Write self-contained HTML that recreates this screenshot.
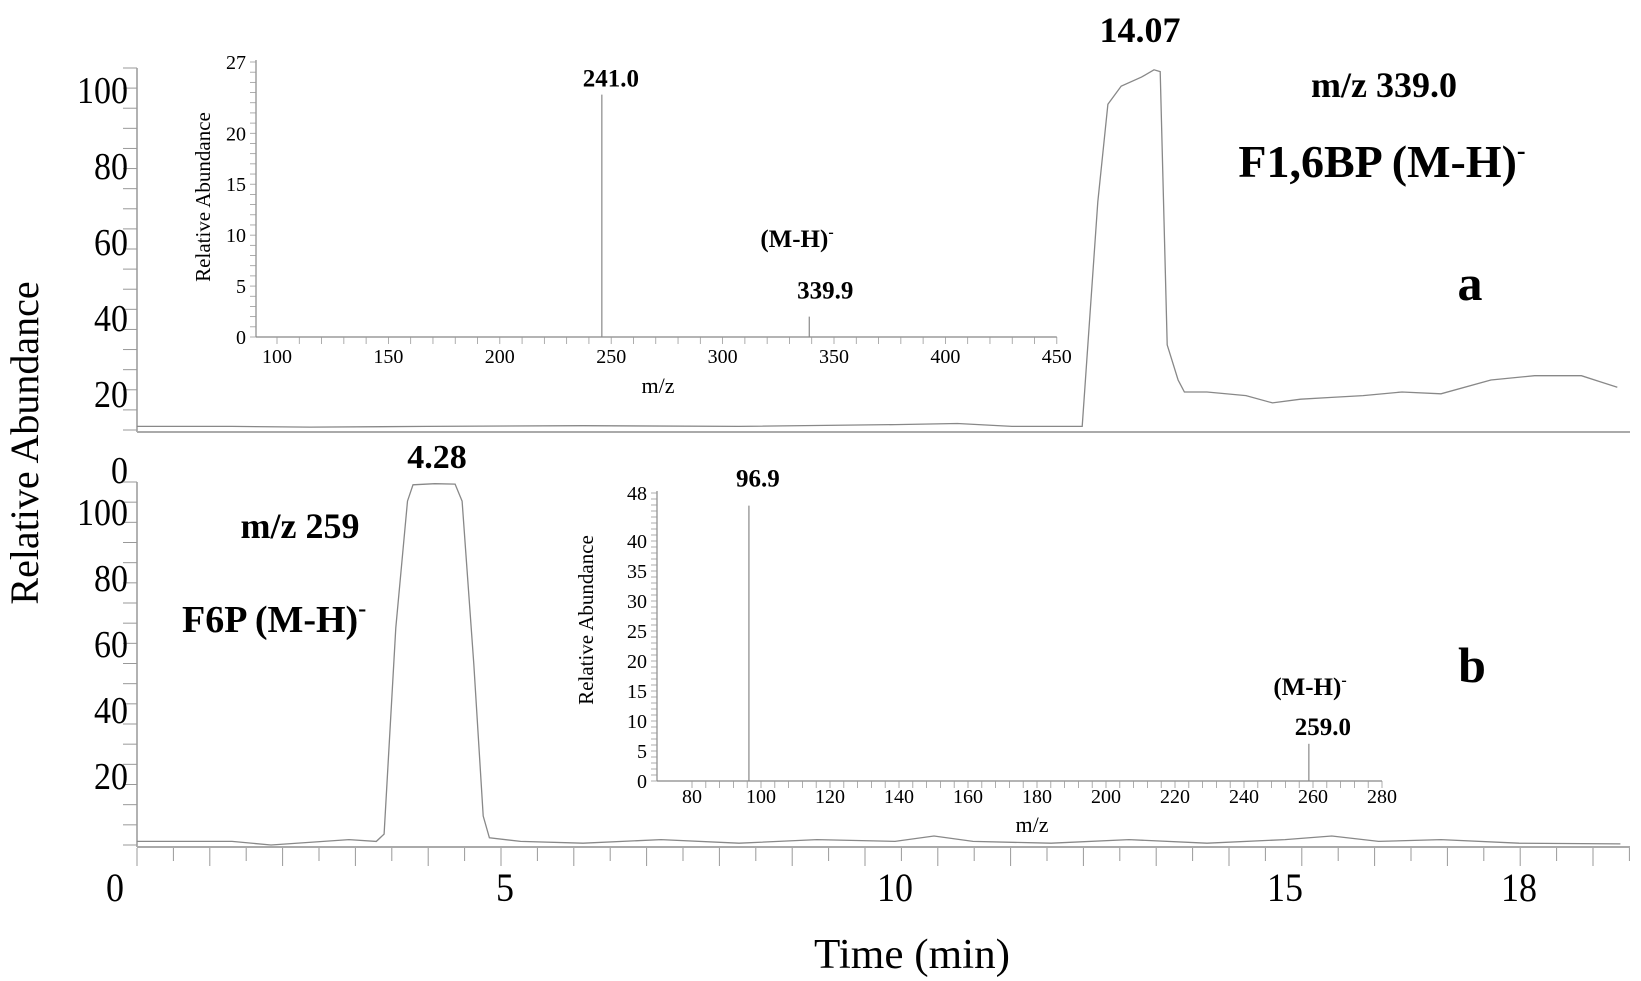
<!DOCTYPE html>
<html><head><meta charset="utf-8"><style>
html,body{margin:0;padding:0;background:#fff;}
svg{display:block;font-family:"Liberation Serif",serif;}
</style></head><body>
<svg id="chart" width="1641" height="981" viewBox="0 0 1641 981" xmlns="http://www.w3.org/2000/svg">
<rect width="1641" height="981" fill="#fff"/>
<g id="static" fill="#000">
<text transform="translate(38,443) rotate(-90)" text-anchor="middle" font-size="40">Relative Abundance</text>
<text x="912" y="968" text-anchor="middle" font-size="42" textLength="196" lengthAdjust="spacingAndGlyphs">Time (min)</text>
<text x="1140" y="42" text-anchor="middle" font-size="36" font-weight="bold">14.07</text>
<text x="1384" y="97" text-anchor="middle" font-size="36" font-weight="bold">m/z 339.0</text>
<text x="1382" y="177" text-anchor="middle" font-size="46" font-weight="bold">F1,6BP (M-H)<tspan dy="-18" font-size="26">-</tspan></text>
<text x="1470" y="300" text-anchor="middle" font-size="50" font-weight="bold">a</text>
<text x="437" y="468" text-anchor="middle" font-size="34" font-weight="bold">4.28</text>
<text x="300" y="538" text-anchor="middle" font-size="36" font-weight="bold">m/z 259</text>
<text x="182" y="632" font-size="38" font-weight="bold">F6P (M-H)<tspan dy="-16" font-size="24">-</tspan></text>
<text x="1472" y="682" text-anchor="middle" font-size="50" font-weight="bold">b</text>
</g>
</svg>
<script>
// ---- data ----
const timeTicks = [0, 5, 10, 15, 18];
const yTicks = [0, 20, 40, 60, 80, 100];
const chromA_t = [0.28,1.5,2.5,4,6,8,10,10.8,11.5,12.4,12.6,12.73,12.9,13.16,13.32,13.4,13.49,13.63,13.71,14.0,14.5,14.84,15.2,15.6,16.0,16.5,17.0,17.64,18.2,18.8,19.26];
const chromA_v = [1,1,0.8,1,1.2,1,1.5,1.8,1,1,63,90,95,97.5,99.5,99,23.5,13.8,10.5,10.5,9.5,7.5,8.5,9,9.5,10.5,10,13.8,15,15,11.8];
const chromB_t = [0.28,1.5,2,3,3.35,3.45,3.6,3.75,3.82,4.1,4.36,4.45,4.6,4.72,4.8,5.2,6,7,8,9,10,10.5,11,12,13,14,15,15.6,16.2,17,18,19.3];
const chromB_v = [1,1,0,1.5,1,3,60,95,99.5,99.8,99.7,95,50,8,2,1,0.5,1.5,0.5,1.5,1,2.5,1,0.5,1.5,0.5,1.5,2.5,1,1.5,0.5,0.3];
const specA_mz = [245.8, 338.9];
const specA_int = [23.8, 2.0];
const specA_labels = ["241.0", "339.9"];
const specA_xticks = [100,150,200,250,300,350,400,450];
const specA_yticks = [0,5,10,15,20,27];
const specB_mz = [96.5, 258.8];
const specB_int = [45.9, 6.2];
const specB_labels = ["96.9", "259.0"];
const specB_xticks = [80,100,120,140,160,180,200,220,240,260,280];
const specB_yticks = [0,5,10,15,20,25,30,35,40,48];

// ---- helpers ----
const NS = "http://www.w3.org/2000/svg";
const svg = document.getElementById('chart');
function mk(tag, attrs, parent, text){
  const e = document.createElementNS(NS, tag);
  for (const k in attrs) e.setAttribute(k, attrs[k]);
  if (text !== undefined) e.textContent = text;
  (parent || svg).appendChild(e);
  return e;
}
const xT = t => 115 + 78 * t;
const yA = v => 430 - v * 3.62;
const yB = v => 845 - v * 3.62;
const yLabA = v => 470 - v * 3.8;
const yLabB = v => 842 - v * 3.3;
const AX0 = 137, AX1 = 1630;

// ---- main axes ----
function panelAxis(top, base, labFn, name){
  const g = mk('g', {});
  
  
  mk('line', {x1:AX0, y1:top, x2:AX0, y2:base+2, stroke:'#999', 'stroke-width':1.5}, g);
  mk('line', {x1:AX0, y1:base+2, x2:AX1, y2:base+2, stroke:'#aaa', 'stroke-width':2}, g);
  for (let y = base; y >= top; y -= (base - top) / 18) {
    mk('line', {x1:AX0-14, y1:y, x2:AX0, y2:y, stroke:'#999', 'stroke-width':1}, g);
  }
  yTicks.forEach(v => {
    if (v === 0 && name === 'bottom-y-axis') return;
    const t = mk('text', {x:128, y:labFn(v)+13, 'text-anchor':'end', 'font-size':38, textLength: String(v).length*17, lengthAdjust:'spacingAndGlyphs'}, g, String(v));
    
    
  });
}
panelAxis(68, 430, yLabA, 'top-y-axis');
panelAxis(482, 845, yLabB, 'bottom-y-axis');

// x axis ticks (bottom)
const xg = mk('g', {});


for (let x = AX0, i = 0; x <= AX1; x += 36.4, i++) {
  mk('line', {x1:x, y1:848, x2:x, y2: i % 2 === 0 ? 866 : 861, stroke:'#999', 'stroke-width':1}, xg);
}
timeTicks.forEach(t => {
  const e = mk('text', {x:xT(t), y:901, 'text-anchor':'middle', 'font-size':40, textLength:String(t).length*18, lengthAdjust:'spacingAndGlyphs'}, xg, String(t));
  
  
});

// ---- chromatogram traces ----
function trace(ts, vs, yf, name){
  const d = ts.map((t,i) => (i ? 'L' : 'M') + xT(t).toFixed(1) + ' ' + yf(vs[i]).toFixed(1)).join(' ');
  const p = mk('path', {d:d, fill:'none', stroke:'#888', 'stroke-width':1.3});
  
  
}
trace(chromA_t, chromA_v, yA, 'chromatogram-a-line');
trace(chromB_t, chromB_v, yB, 'chromatogram-b-line');

// ---- inset spectra ----
function inset(cfg){
  const g = mk('g', {});
  
  
  const sx = m => cfg.x0 + (m - cfg.mzRef) * cfg.kx;
  const sy = v => cfg.yb - v * (cfg.yb - cfg.yt) / cfg.yMax;
  mk('line', {x1:cfg.ax, y1:cfg.yt-2, x2:cfg.ax, y2:cfg.yb, stroke:'#888', 'stroke-width':1.2}, g);
  mk('line', {x1:cfg.ax, y1:cfg.yb, x2:sx(cfg.xticks[cfg.xticks.length-1]), y2:cfg.yb, stroke:'#888', 'stroke-width':1.2}, g);
  for (let v = 0; v <= cfg.yMax; v += 1) {
    mk('line', {x1:cfg.ax-6, y1:sy(v), x2:cfg.ax, y2:sy(v), stroke:'#999', 'stroke-width':0.8}, g);
  }
  cfg.yticks.forEach(v => {
    const e = mk('text', {x:cfg.ax-10, y:sy(v)+7, 'text-anchor':'end', 'font-size':20}, g, String(v));
    
    
  });
  const step = (cfg.xticks[1] - cfg.xticks[0]) / 5;
  for (let m = cfg.xticks[0]; m <= cfg.xticks[cfg.xticks.length-1] + 0.01; m += step) {
    mk('line', {x1:sx(m), y1:cfg.yb, x2:sx(m), y2:cfg.yb+7, stroke:'#999', 'stroke-width':0.8}, g);
  }
  cfg.xticks.forEach(m => {
    const e = mk('text', {x:sx(m), y:cfg.yb+cfg.labOff, 'text-anchor':'middle', 'font-size':20}, g, String(m));
    
    
  });
  cfg.mz.forEach((m, i) => {
    const l = mk('line', {x1:sx(m), y1:cfg.yb, x2:sx(m), y2:sy(cfg.inten[i]), stroke:'#888', 'stroke-width':1.2}, g);
    
    
    const t = mk('text', {x:sx(m)+cfg.labDx[i], y:sy(cfg.inten[i])-cfg.labDy[i], 'text-anchor':'middle', 'font-size':25, 'font-weight':'bold'}, g, cfg.labels[i]);
    
    
  });
  const mh = mk('text', {x:cfg.mhX, y:cfg.mhY, 'text-anchor':'middle', 'font-size':25, 'font-weight':'bold'}, g, '(M-H)');
  
  
  mk('tspan', {dy:-10, 'font-size':16}, mh, '-');
  const xt = mk('text', {x:cfg.mzX, y:cfg.mzY, 'text-anchor':'middle', 'font-size':22}, g, 'm/z');
  
  
  const yt = mk('text', {transform:'translate(' + cfg.ytX + ',' + cfg.ytY + ') rotate(-90)', 'text-anchor':'middle', 'font-size':21}, g, 'Relative Abundance');
  
  
}
inset({name:'inset-spectrum-a', ax:256, x0:277, mzRef:100, kx:2.228, yt:62, yb:337, yMax:27, labOff:26,
  xticks:specA_xticks, yticks:specA_yticks, mz:specA_mz, inten:specA_int, labels:specA_labels,
  labDx:[9,16], labDy:[8,18], mhX:797, mhY:247, mzX:658, mzY:393, ytX:210, ytY:197});
inset({name:'inset-spectrum-b', ax:657, x0:692, mzRef:80, kx:3.45, yt:493, yb:781, yMax:48, labOff:22,
  xticks:specB_xticks, yticks:specB_yticks, mz:specB_mz, inten:specB_int, labels:specB_labels,
  labDx:[9,14], labDy:[19,9], mhX:1310, mhY:695, mzX:1032, mzY:832, ytX:593, ytY:620});
</script>
</body></html>
